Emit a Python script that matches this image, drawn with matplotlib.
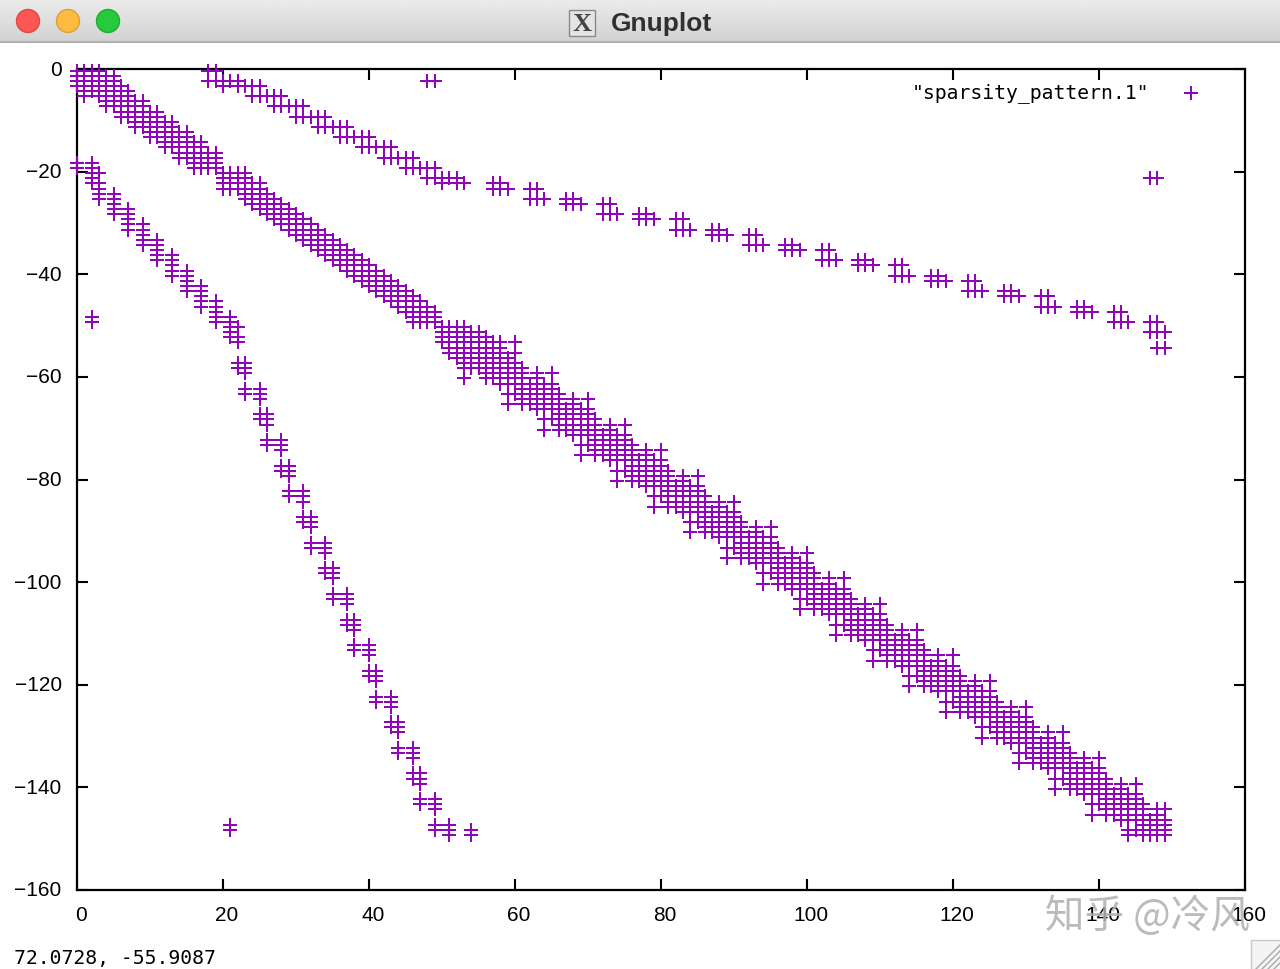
#!/usr/bin/env python3

import matplotlib
matplotlib.use("Agg")
import matplotlib.pyplot as plot
import matplotlib.patches as patches
from matplotlib.transforms import ScaledTranslation
import numpy as np

# data #########################################################################

xTicks = [0, 20, 40, 60, 80, 100, 120, 140, 160]
xLabels = ["0", "20", "40", "60", "80", "100", "120", "140", "160"]
yTicks = [0, -20, -40, -60, -80, -100, -120, -140, -160]
yLabels = ["0", "\u221220", "\u221240", "\u221260", "\u221280", "\u2212100",
           "\u2212120", "\u2212140", "\u2212160"]
legendLabel = '"sparsity_pattern.1"'
statusText = "72.0728, -55.9087"
watermark = "知乎 @冷风"

# the off-diagonal bands, the matrix is symmetric so one table gives both
bandIndex = [0, 2, 3, 5, 7, 9, 11, 13, 15, 17, 19, 21, 22, 23, 25, 26, 28, 29,
             31, 32, 34, 35, 37, 38, 40, 41, 43, 44, 46, 47, 49, 51, 54]
bandValues = [
  [18, 19],
  [18, 19, 20, 21, 22, 48, 49],
  [20, 22, 23, 24, 25],
  [24, 25, 26, 27, 28],
  [27, 28, 29, 30, 31],
  [30, 31, 32, 33, 34],
  [33, 34, 35, 36, 37],
  [36, 37, 38, 39, 40],
  [39, 40, 41, 42, 43],
  [42, 43, 44, 45, 46],
  [45, 46, 47, 48, 49],
  [48, 49, 50, 51, 52, 147, 148],
  [50, 52, 53, 57, 58],
  [57, 58, 59, 62, 63],
  [62, 63, 64, 67, 68],
  [67, 68, 69, 72, 73],
  [72, 73, 74, 77, 78],
  [77, 78, 79, 82, 83],
  [82, 83, 84, 87, 88],
  [87, 88, 89, 92, 93],
  [92, 93, 94, 97, 98],
  [97, 98, 99, 102, 103],
  [102, 103, 104, 107, 108],
  [107, 108, 109, 112, 113],
  [112, 113, 114, 117, 118],
  [117, 118, 119, 122, 123],
  [122, 123, 124, 127, 128],
  [127, 128, 129, 132, 133],
  [132, 133, 134, 137, 138],
  [137, 138, 139, 142, 143],
  [142, 143, 144, 147, 148],
  [147, 148, 149],
  [148, 149],
]

# main diagonal band, one list of columns per row, row 0 first
mainBandCols = [
  [0, 1, 2, 3],
  [0, 1, 2, 3, 4, 5],
  [0, 1, 2, 3, 4, 5],
  [0, 1, 2, 3, 4, 5, 6],
  [1, 2, 3, 4, 5, 6, 7],
  [1, 3, 4, 5, 6, 7],
  [4, 5, 6, 7, 8, 9],
  [4, 5, 6, 7, 8, 9],
  [6, 7, 8, 9, 10, 11],
  [6, 7, 8, 9, 10, 11],
  [8, 9, 10, 11, 12, 13],
  [8, 9, 10, 11, 12, 13],
  [10, 11, 12, 13, 14, 15],
  [10, 11, 12, 13, 14, 15],
  [12, 13, 14, 15, 16, 17],
  [12, 13, 14, 15, 16, 17],
  [14, 15, 16, 17, 18, 19],
  [14, 15, 16, 17, 18, 19],
  [16, 17, 18, 19],
  [16, 17, 18, 19],
  [20, 21, 22, 23],
  [20, 21, 22, 23],
  [20, 21, 22, 23, 24, 25],
  [20, 21, 22, 23, 24, 25],
  [23, 24, 25, 26],
  [23, 24, 25, 26, 27],
  [24, 25, 26, 27, 28],
  [25, 26, 27, 28, 29],
  [26, 27, 28, 29, 30],
  [27, 28, 29, 30, 31],
  [28, 29, 30, 31, 32],
  [29, 30, 31, 32, 33],
  [30, 31, 32, 33, 34],
  [31, 32, 33, 34, 35],
  [32, 33, 34, 35, 36],
  [33, 34, 35, 36, 37],
  [34, 35, 36, 37, 38],
  [35, 36, 37, 38, 39],
  [36, 37, 38, 39, 40],
  [37, 38, 39, 40, 41],
  [38, 39, 40, 41, 42],
  [39, 40, 41, 42, 43],
  [40, 41, 42, 43, 44],
  [41, 42, 43, 44, 45],
  [42, 43, 44, 45, 46],
  [43, 44, 45, 46, 47],
  [44, 45, 46, 47, 48],
  [45, 46, 47, 48, 49],
  [46, 47, 48, 49],
  [46, 47, 48, 49],
  [50, 51, 52, 53],
  [50, 51, 52, 53, 54, 55],
  [50, 51, 52, 53, 54, 55, 56],
  [50, 51, 52, 53, 54, 55, 56, 57, 58, 60],
  [51, 52, 53, 54, 55, 56, 57, 58],
  [51, 52, 53, 54, 55, 56, 57, 58, 60],
  [52, 53, 54, 55, 56, 57, 58, 59],
  [53, 54, 55, 56, 57, 58, 59, 60],
  [53, 54, 55, 56, 57, 58, 59, 60, 61],
  [56, 57, 58, 59, 60, 61, 63, 65],
  [53, 56, 57, 58, 59, 60, 61, 63],
  [58, 59, 60, 61, 62, 63, 64, 65],
  [61, 62, 63, 64, 65],
  [59, 60, 61, 62, 63, 64, 65, 66],
  [61, 62, 63, 64, 65, 66, 68, 70],
  [59, 61, 62, 63, 64, 65, 66, 68],
  [63, 64, 65, 66, 67, 68, 69, 70],
  [66, 67, 68, 69, 70],
  [64, 65, 66, 67, 68, 69, 70, 71],
  [66, 67, 68, 69, 70, 71, 73, 75],
  [64, 66, 67, 68, 69, 70, 71, 73],
  [68, 69, 70, 71, 72, 73, 74, 75],
  [71, 72, 73, 74, 75],
  [69, 70, 71, 72, 73, 74, 75, 76],
  [71, 72, 73, 74, 75, 76, 78, 80],
  [69, 71, 72, 73, 74, 75, 76, 78],
  [73, 74, 75, 76, 77, 78, 79, 80],
  [76, 77, 78, 79, 80],
  [74, 75, 76, 77, 78, 79, 80, 81],
  [76, 77, 78, 79, 80, 81, 83, 85],
  [74, 76, 77, 78, 79, 80, 81, 83],
  [78, 79, 80, 81, 82, 83, 84, 85],
  [81, 82, 83, 84, 85],
  [79, 80, 81, 82, 83, 84, 85, 86],
  [81, 82, 83, 84, 85, 86, 88, 90],
  [79, 81, 82, 83, 84, 85, 86, 88],
  [83, 84, 85, 86, 87, 88, 89, 90],
  [86, 87, 88, 89, 90],
  [84, 85, 86, 87, 88, 89, 90, 91],
  [86, 87, 88, 89, 90, 91, 93, 95],
  [84, 86, 87, 88, 89, 90, 91, 93],
  [88, 89, 90, 91, 92, 93, 94, 95],
  [91, 92, 93, 94, 95],
  [89, 90, 91, 92, 93, 94, 95, 96],
  [91, 92, 93, 94, 95, 96, 98, 100],
  [89, 91, 92, 93, 94, 95, 96, 98],
  [93, 94, 95, 96, 97, 98, 99, 100],
  [96, 97, 98, 99, 100],
  [94, 95, 96, 97, 98, 99, 100, 101],
  [96, 97, 98, 99, 100, 101, 103, 105],
  [94, 96, 97, 98, 99, 100, 101, 103],
  [98, 99, 100, 101, 102, 103, 104, 105],
  [101, 102, 103, 104, 105],
  [99, 100, 101, 102, 103, 104, 105, 106],
  [101, 102, 103, 104, 105, 106, 108, 110],
  [99, 101, 102, 103, 104, 105, 106, 108],
  [103, 104, 105, 106, 107, 108, 109, 110],
  [106, 107, 108, 109, 110],
  [104, 105, 106, 107, 108, 109, 110, 111],
  [106, 107, 108, 109, 110, 111, 113, 115],
  [104, 106, 107, 108, 109, 110, 111, 113],
  [108, 109, 110, 111, 112, 113, 114, 115],
  [111, 112, 113, 114, 115],
  [109, 110, 111, 112, 113, 114, 115, 116],
  [111, 112, 113, 114, 115, 116, 118, 120],
  [109, 111, 112, 113, 114, 115, 116, 118],
  [113, 114, 115, 116, 117, 118, 119, 120],
  [116, 117, 118, 119, 120],
  [114, 115, 116, 117, 118, 119, 120, 121],
  [116, 117, 118, 119, 120, 121, 123, 125],
  [114, 116, 117, 118, 119, 120, 121, 123],
  [118, 119, 120, 121, 122, 123, 124, 125],
  [121, 122, 123, 124, 125],
  [119, 120, 121, 122, 123, 124, 125, 126],
  [121, 122, 123, 124, 125, 126, 128, 130],
  [119, 121, 122, 123, 124, 125, 126, 128],
  [123, 124, 125, 126, 127, 128, 129, 130],
  [126, 127, 128, 129, 130],
  [124, 125, 126, 127, 128, 129, 130, 131],
  [126, 127, 128, 129, 130, 131, 133, 135],
  [124, 126, 127, 128, 129, 130, 131, 133],
  [128, 129, 130, 131, 132, 133, 134, 135],
  [131, 132, 133, 134, 135],
  [129, 130, 131, 132, 133, 134, 135, 136],
  [131, 132, 133, 134, 135, 136, 138, 140],
  [129, 131, 132, 133, 134, 135, 136, 138],
  [133, 134, 135, 136, 137, 138, 139, 140],
  [136, 137, 138, 139, 140],
  [134, 135, 136, 137, 138, 139, 140, 141],
  [136, 137, 138, 139, 140, 141, 143, 145],
  [134, 136, 137, 138, 139, 140, 141, 143],
  [138, 139, 140, 141, 142, 143, 144, 145],
  [141, 142, 143, 144, 145],
  [139, 140, 141, 142, 143, 144, 145, 146],
  [141, 142, 143, 144, 145, 146, 148, 149],
  [139, 141, 142, 143, 144, 145, 146, 148],
  [143, 144, 145, 146, 147, 148, 149],
  [146, 147, 148, 149],
  [144, 145, 146, 147, 148, 149],
  [144, 146, 147, 148, 149],
]

################################################################################


# drawWindow ###################################################################

def drawWindow(figure):
  # pixel coordinates of the screenshot, origin top left
  chrome = figure.add_axes([0, 0, 1, 1], zorder = 0)
  chrome.set_xlim(0, 1280)
  chrome.set_ylim(970, 0)
  chrome.axis("off")

  gradient = np.linspace(0.925, 0.82, 44).reshape(-1, 1)
  chrome.imshow(gradient, extent = (0, 1280, 43, 0), cmap = "gray",
                vmin = 0, vmax = 1, aspect = "auto")
  chrome.set_xlim(0, 1280)
  chrome.set_ylim(970, 0)
  chrome.plot([0, 1280], [43, 43], color = "#b0b0b0", lw = 1.5)

  lights = [(28, "#fc5753", "#df4744"), (68, "#fdbc40", "#de9f34"),
            (108, "#27c93f", "#1dad2b")]
  for x, face, edge in lights:
    chrome.add_patch(patches.Circle((x, 22), 11.5, facecolor = face,
                                    edgecolor = edge, lw = 1))

  chrome.add_patch(patches.Rectangle((569, 11), 26, 26, facecolor = "#e4e4e4",
                                     edgecolor = "#8a8a8a", lw = 1))
  chrome.text(582, 24.5, "X", fontsize = 19, fontweight = "bold",
              family = "Liberation Serif", color = "#444444",
              ha = "center", va = "center")
  chrome.text(662, 24, "Gnuplot", fontsize = 19, fontweight = "bold",
              family = "Liberation Sans", color = "#303030",
              ha = "center", va = "center")

  chrome.text(14, 959, statusText, fontsize = 14.2, family = "DejaVu Sans Mono",
              color = "black", va = "center", ha = "left")

  # resize grip
  chrome.add_patch(patches.Rectangle((1251, 941), 30, 30, facecolor = "#f4f4f4",
                                     edgecolor = "#c8c8c8", lw = 1))
  for offset in [6, 12, 18, 24]:
    chrome.plot([1280 - offset, 1280], [970, 970 - offset], color = "#a8a8a8",
                lw = 1)

################################################################################


# plotSparsity #################################################################

def plotSparsity(figureFilename):
  figure = plot.figure(figsize = (12.8, 9.7), dpi = 100)
  drawWindow(figure)

  ax = figure.add_axes([77 / 1280, 1 - 891 / 970, 1168 / 1280, 821 / 970],
                       zorder = 2)
  ax.patch.set_alpha(0)

  x = []
  y = []
  for row, cols in enumerate(mainBandCols):
    for col in cols:
      x.append(col)
      y.append(-row)
  for index, values in zip(bandIndex, bandValues):
    for value in values:
      x.extend([index, value])
      y.extend([-value, -index])

  # gnuplot's x11 terminal draws without smoothing
  markerStyle = {"marker": "+", "linestyle": "none", "color": "#8e06b8",
                 "markersize": 10.3, "markeredgewidth": 1.45, "clip_on": False,
                 "antialiased": False}
  # the marks sit a little under their nominal rows in the screenshot
  markShift = ScaledTranslation(0, -1.5 / 100, figure.dpi_scale_trans)
  ax.plot(x, y, zorder = 3, transform = ax.transData + markShift, **markerStyle)

  ax.set_xlim(0, 160)
  ax.set_ylim(-160, 0)
  ax.set_xticks(xTicks)
  ax.set_xticklabels(xLabels, fontsize = 15, family = "Liberation Sans")
  ax.set_yticks(yTicks)
  ax.set_yticklabels(yLabels, fontsize = 15, family = "Liberation Sans")
  ax.tick_params(axis = "both", direction = "in", length = 8, width = 1.5,
                 top = True, right = True)
  ax.tick_params(axis = "x", pad = 11)
  ax.tick_params(axis = "y", pad = 11)
  for spine in ax.spines.values():
    spine.set_linewidth(1.6)

  # gnuplot puts the x labels a little to the right of their ticks and the
  # y labels a little above theirs
  for label in ax.get_xticklabels():
    label.set_transform(label.get_transform() +
                        ScaledTranslation(4 / 100, 0, figure.dpi_scale_trans))
  for label in ax.get_yticklabels():
    label.set_transform(label.get_transform() +
                        ScaledTranslation(0, 2 / 100, figure.dpi_scale_trans))

  ax.text(0.918, 0.9725, legendLabel, transform = ax.transAxes, ha = "right",
          va = "center", fontsize = 14.2, family = "DejaVu Sans Mono")
  ax.plot([0.9537], [0.971], transform = ax.transAxes, zorder = 3,
          **markerStyle)

  figure.text(1147 / 1280, 1 - 917 / 970, watermark, fontsize = 28.5,
              family = ["Noto Sans CJK SC", "DejaVu Sans"], color = "#b0b0b0",
              alpha = 0.85, ha = "center", va = "center", zorder = 5)

  figure.savefig(figureFilename, dpi = 100)
  plot.close()

################################################################################

if __name__ == "__main__":
  plotSparsity("out.png")
